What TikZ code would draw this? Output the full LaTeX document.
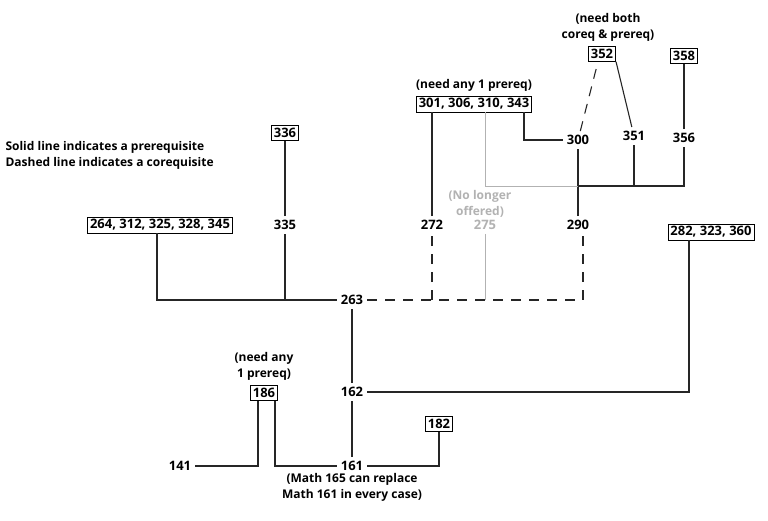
\documentclass[tikz,border=0pt]{standalone}
\usepackage{fontspec}
\setmainfont{Open Sans}
\usetikzlibrary{positioning}
\begin{document}
\begin{tikzpicture}[x=1pt,y=-1pt,
  course/.style={font=\bfseries\fontsize{13}{14}\selectfont,inner sep=4pt},
  box/.style={course,draw,thick,inner sep=2.5pt},
  note/.style={font=\bfseries\fontsize{12}{16}\selectfont,align=center},
  gone/.style={gray!60},
  link/.style={line width=1.1pt,black!85},
  co/.style={link,dash pattern=on 10pt off 8pt}]
 \useasboundingbox (0,0) rectangle (768,520);

 %Legend
 \node[note,align=left,anchor=west] (legend) at (2,155) {Solid line indicates a prerequisite\\Dashed line indicates a corequisite};

 %Courses
 \node[course] (c141) at (180,466) {141};
 \node[course] (c161) at (352,466) {161};
 \node[course] (c162) at (352,392) {162};
 \node[course] (c263) at (352,300) {263};
 \node[course] (c335) at (285,225) {335};
 \node[course] (c272) at (432,225) {272};
 \node[course,text=gray!60] (c275) at (485,225) {275};
 \node[course] (c290) at (578,225) {290};
 \node[course] (c300) at (578,140) {300};
 \node[course] (c351) at (634,136) {351};
 \node[course] (c356) at (684,138) {356};

 %Boxes
 \node[box] (b186) at (264,393) {186};
 \node[box] (b182) at (439,424) {182};
 \node[box] (b264) at (160,225) {264, 312, 325, 328, 345};
 \node[box] (b336) at (285,133) {336};
 \node[box] (b301) at (474,104) {301, 306, 310, 343};
 \node[box] (b352) at (602,54) {352};
 \node[box] (b358) at (684,56) {358};
 \node[box] (b282) at (711,232) {282, 323, 360};

 %Notes
 \node[note,above=1pt of b186] (n186) {(need any\\1 prereq)};
 \node[note,below=-5pt of c161] (n161) {(Math 165 can replace\\Math 161 in every case)};
 \node[note,above=1pt of b301] (n301) {(need any 1 prereq)};
 \node[note,above=1pt of b352,xshift=6pt] (n352) {(need both\\coreq \& prereq)};
 \node[note,text=gray!60,above=-5pt of c275,xshift=-5pt] (n275) {(No longer\\offered)};

 %Helper points
 \coordinate (j263) at (157,300);
 \coordinate (k263) at (285,300);
 \coordinate (j186a) at (258,466);
 \coordinate (j186b) at (275,466);
 \coordinate (j182) at (439,466);
 \coordinate (j162) at (689,392);
 \coordinate (j300) at (524,140);
 \coordinate (h290) at (578,186);
 \coordinate (h351) at (634,186);
 \coordinate (h356) at (684,186);
 \coordinate (g275) at (485,186);
 \coordinate (d272) at (432,300);
 \coordinate (d275) at (485,300);
 \coordinate (d290) at (583,300);

 %Prerequisites
 \draw[link] (c141) -- (j186a) -- (j186a |- b186.south);
 \draw[link] (c161) -- (j186b) -- (j186b |- b186.south);
 \draw[link] (c161) -- (j182) -- (b182);
 \draw[link] (c161) -- (c162);
 \draw[link] (c162) -- (c263);
 \draw[link] (c162) -- (j162) -- (j162 |- b282.south);
 \draw[link] (c263) -- (j263) -- (j263 |- b264.south);
 \draw[link] (k263) -- (c335);
 \draw[link] (c335) -- (b336);
 \draw[link] (c272) -- (c272 |- b301.south);
 \draw[link] (c300) -- (j300) -- (j300 |- b301.south);
 \draw[link] (c290) -- (c300);
 \draw[link] (h290) -- (h356) -- (c356);
 \draw[link] (h351) -- (c351);
 \draw[link] (c356) -- (b358);
 \draw[link] (c351) -- (b352.south east);
 \draw[gone,thick] (g275 |- b301.south) -- (g275) -- (h290);
 \draw[gone,thick] (c275) -- (d275);

 %Corequisites
 \draw[co] (c263) -- (d290) -- (d290 |- c290.south);
 \draw[co] (d272) -- (c272);
 \draw[co] (c300) -- ([xshift=-4pt]b352.south);
\end{tikzpicture}
\end{document}
